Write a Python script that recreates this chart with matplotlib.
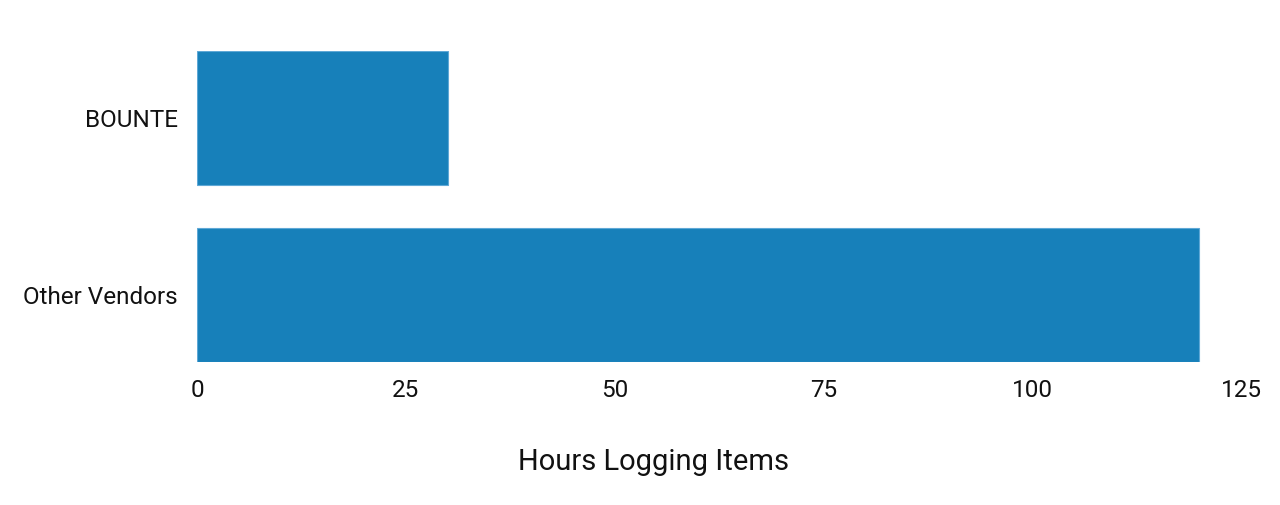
import matplotlib
matplotlib.use("Agg")
import matplotlib.pyplot as plt

plt.rcParams['font.family'] = ['Roboto', 'DejaVu Sans']

# data
categories = ["Other Vendors", "BOUNTE"]
hours = [120, 30]
xticks = [0, 25, 50, 75, 100, 125]

fig = plt.figure(figsize=(12.8, 5.05), dpi=100)
ax = fig.add_axes([197/1280, 1-362/505, (1241-197)/1280, (362-51)/505])

ax.barh(categories, hours, height=0.755, color="#1780ba", edgecolor="#5fa8d6", linewidth=0.8)

ax.set_xlim(0, 125)
ax.set_ylim(-0.3775, 1.3775)
ax.set_xticks(xticks)
ax.tick_params(axis="both", length=0, labelsize=17.5, colors="#111111")
ax.tick_params(axis="x", pad=12)
ax.tick_params(axis="y", pad=14)
for s in ax.spines.values():
    s.set_visible(False)

ax.set_xlabel("Hours Logging Items", fontsize=21, color="#111111")
ax.xaxis.set_label_coords((654-197)/1044, -(448-362)/311, transform=ax.transAxes)

fig.savefig("out.png", dpi=100)
